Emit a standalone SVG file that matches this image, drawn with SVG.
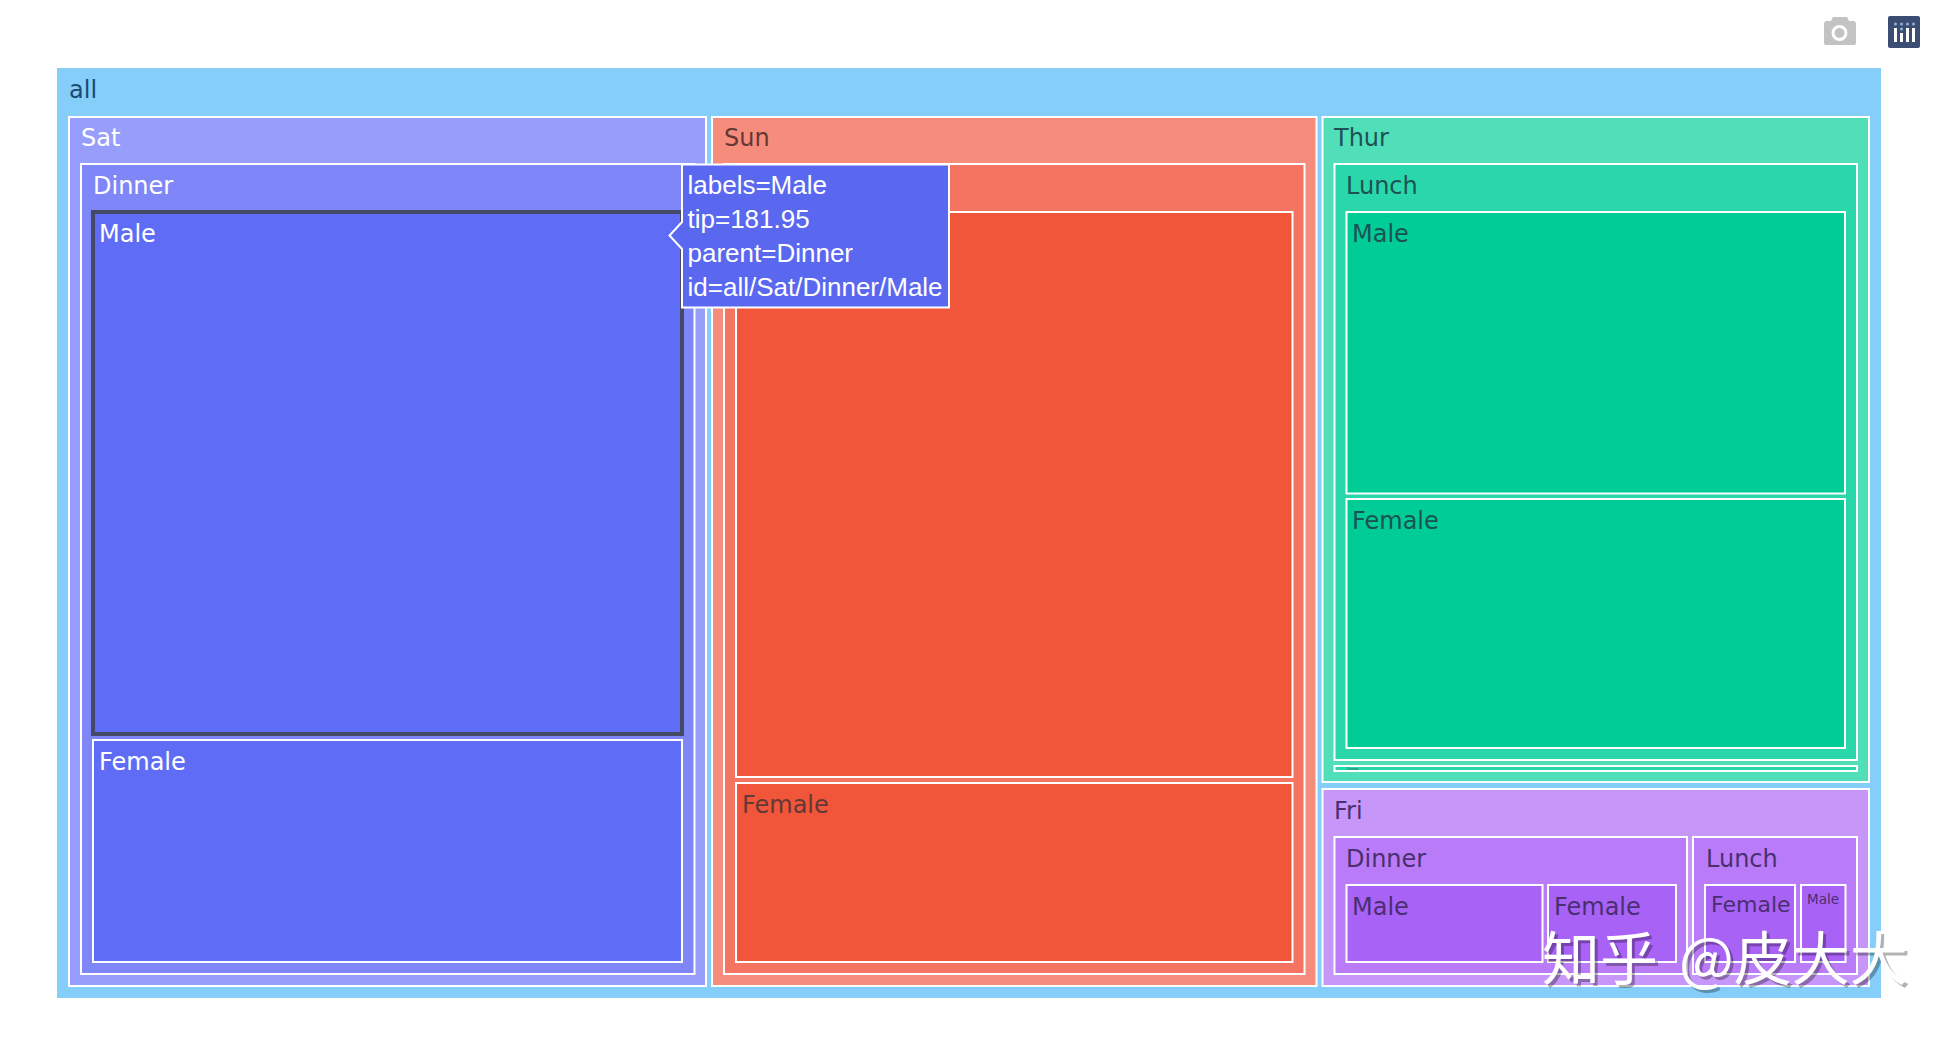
<svg xmlns="http://www.w3.org/2000/svg" width="1960" height="1042" viewBox="0 0 1960 1042">
<style>
text{font-family:"DejaVu Sans","Open Sans",sans-serif;font-size:24px}
rect.n{stroke:#fff;stroke-width:2}
.w{fill:#fff}.a{fill:#1c4a72}.s{fill:#643834}.t{fill:#1c5254}.f{fill:#4a2f70}
.tip text{font-family:"Liberation Sans",Arial,sans-serif;font-size:26px;fill:#fff}
.wm text{font-family:"Noto Sans CJK SC",sans-serif;font-size:58px;word-spacing:8px}
</style>
<rect width="1960" height="1042" fill="#fff"/>
<g id="toolbar">
<path d="M1827 21h4l2-4h14l2 4h4q3 0 3 3v19q0 2-3 2h-26q-3 0-3-2v-19q0-3 3-3z" fill="#c3c3c3"/>
<circle cx="1839.500" cy="33" r="6.500" fill="#c3c3c3" stroke="#fff" stroke-width="3"/>
<rect x="1888" y="16" width="32" height="32" rx="2" fill="#3b4d73"/>
<g fill="#fff"><rect x="1894" y="28" width="3" height="14"/><rect x="1900" y="33" width="3" height="9"/><rect x="1906" y="28" width="3" height="14"/><rect x="1912" y="28" width="3" height="14"/></g>
<g fill="#8fb0d0"><circle cx="1895.500" cy="24" r="1.500"/><circle cx="1901.500" cy="24" r="1.500"/><circle cx="1907.500" cy="24" r="1.500"/><circle cx="1913.500" cy="24" r="1.500"/><circle cx="1901.500" cy="29" r="1.500"/></g>
</g>
<g id="all"><rect x="57" y="68" width="1824" height="930" fill="#85cefa"/><text x="69" y="98" class="a">all</text></g>
<g id="connectors"/>
<g id="sat">
<rect class="n" x="69" y="117" width="637" height="869" fill="#979dfa"/><text x="81" y="146" class="w">Sat</text>
</g>
<g id="sat-dinner">
<rect class="n" x="81" y="164" width="613.500" height="810" fill="#7f87f8"/><text x="93" y="194" class="w">Dinner</text>
</g>
<g id="sat-dinner-female">
<rect class="n" x="93" y="740" width="589" height="222" fill="#5f6df6"/><text x="99" y="770" class="w">Female</text>
</g>
<g id="sat-dinner-male">
<rect x="93" y="212" width="589" height="522" fill="#5f6df6" stroke="#444a66" stroke-width="4"/><text x="99" y="242" class="w">Male</text>
</g>
<g id="sun">
<rect class="n" x="712" y="117" width="604.500" height="869" fill="#f68c7c"/><text x="724" y="146" class="s">Sun</text>
</g>
<g id="sun-dinner"><rect class="n" x="724" y="164" width="580.500" height="810" fill="#f47361"/></g>
<g id="sun-dinner-male"><rect class="n" x="736" y="212" width="556.500" height="565" fill="#f1553a"/></g>
<g id="sun-dinner-female">
<rect class="n" x="736" y="783" width="556.500" height="179" fill="#f1553a"/><text x="742" y="813" class="s">Female</text>
</g>
<g id="thur">
<rect class="n" x="1322.500" y="117" width="546.500" height="665" fill="#51dfb9"/><text x="1334" y="146" class="t">Thur</text>
</g>
<g id="thur-lunch">
<rect class="n" x="1334.500" y="164" width="522.500" height="596" fill="#2ad7ab"/><text x="1346" y="194" class="t">Lunch</text>
</g>
<g id="thur-lunch-male">
<rect class="n" x="1346.500" y="212" width="498.500" height="281.500" fill="#00cc96"/><text x="1352" y="242" class="t">Male</text>
</g>
<g id="thur-lunch-female">
<rect class="n" x="1346.500" y="499" width="498.500" height="249" fill="#00cc96"/><text x="1352" y="529" class="t">Female</text>
</g>
<g id="thur-dinner">
<rect class="n" x="1334.500" y="766" width="522.500" height="5" fill="#2ad7ab"/><text x="1347" y="770" class="t" style="font-size:3.500px">Dinner</text>
</g>
<g id="fri">
<rect class="n" x="1322.500" y="789" width="546.500" height="197" fill="#c796f9"/><text x="1334" y="819" class="f">Fri</text>
</g>
<g id="fri-dinner">
<rect class="n" x="1334.500" y="837" width="352.500" height="137" fill="#b97bf8"/><text x="1346" y="867" class="f">Dinner</text>
</g>
<g id="fri-dinner-male">
<rect class="n" x="1346.500" y="885" width="196" height="77" fill="#a962f6"/><text x="1352" y="915" class="f">Male</text>
</g>
<g id="fri-dinner-female">
<rect class="n" x="1548" y="885" width="128" height="77" fill="#a962f6"/><text x="1554" y="915" class="f">Female</text>
</g>
<g id="fri-lunch">
<rect class="n" x="1693" y="837" width="164" height="137" fill="#b97bf8"/><text x="1706" y="867" class="f">Lunch</text>
</g>
<g id="fri-lunch-female">
<rect class="n" x="1705" y="885" width="90" height="77" fill="#a962f6"/><text x="1711" y="912" class="f" style="font-size:22px">Female</text>
</g>
<g id="fri-lunch-male">
<rect class="n" x="1801" y="885" width="44.500" height="77" fill="#a962f6"/><text x="1807" y="904" class="f" style="font-size:13.500px">Male</text>
</g>
<g id="tooltip" class="tip">
<path d="M682 164.500H949V307.500H682V249L669.500 235.500L682 222Z" fill="#5a68f0" stroke="#fff" stroke-width="2"/>
<text x="687.500" y="194">labels=Male</text>
<text x="687.500" y="228">tip=181.95</text>
<text x="687.500" y="262">parent=Dinner</text>
<text x="687.500" y="296">id=all/Sat/Dinner/Male</text>
</g>
<g id="watermark" class="wm">
<text x="1545" y="983" fill="#000" fill-opacity=".3">知乎 @皮大大</text>
<text x="1542" y="980" fill="#fff">知乎 @皮大大</text>
</g>
</svg>
